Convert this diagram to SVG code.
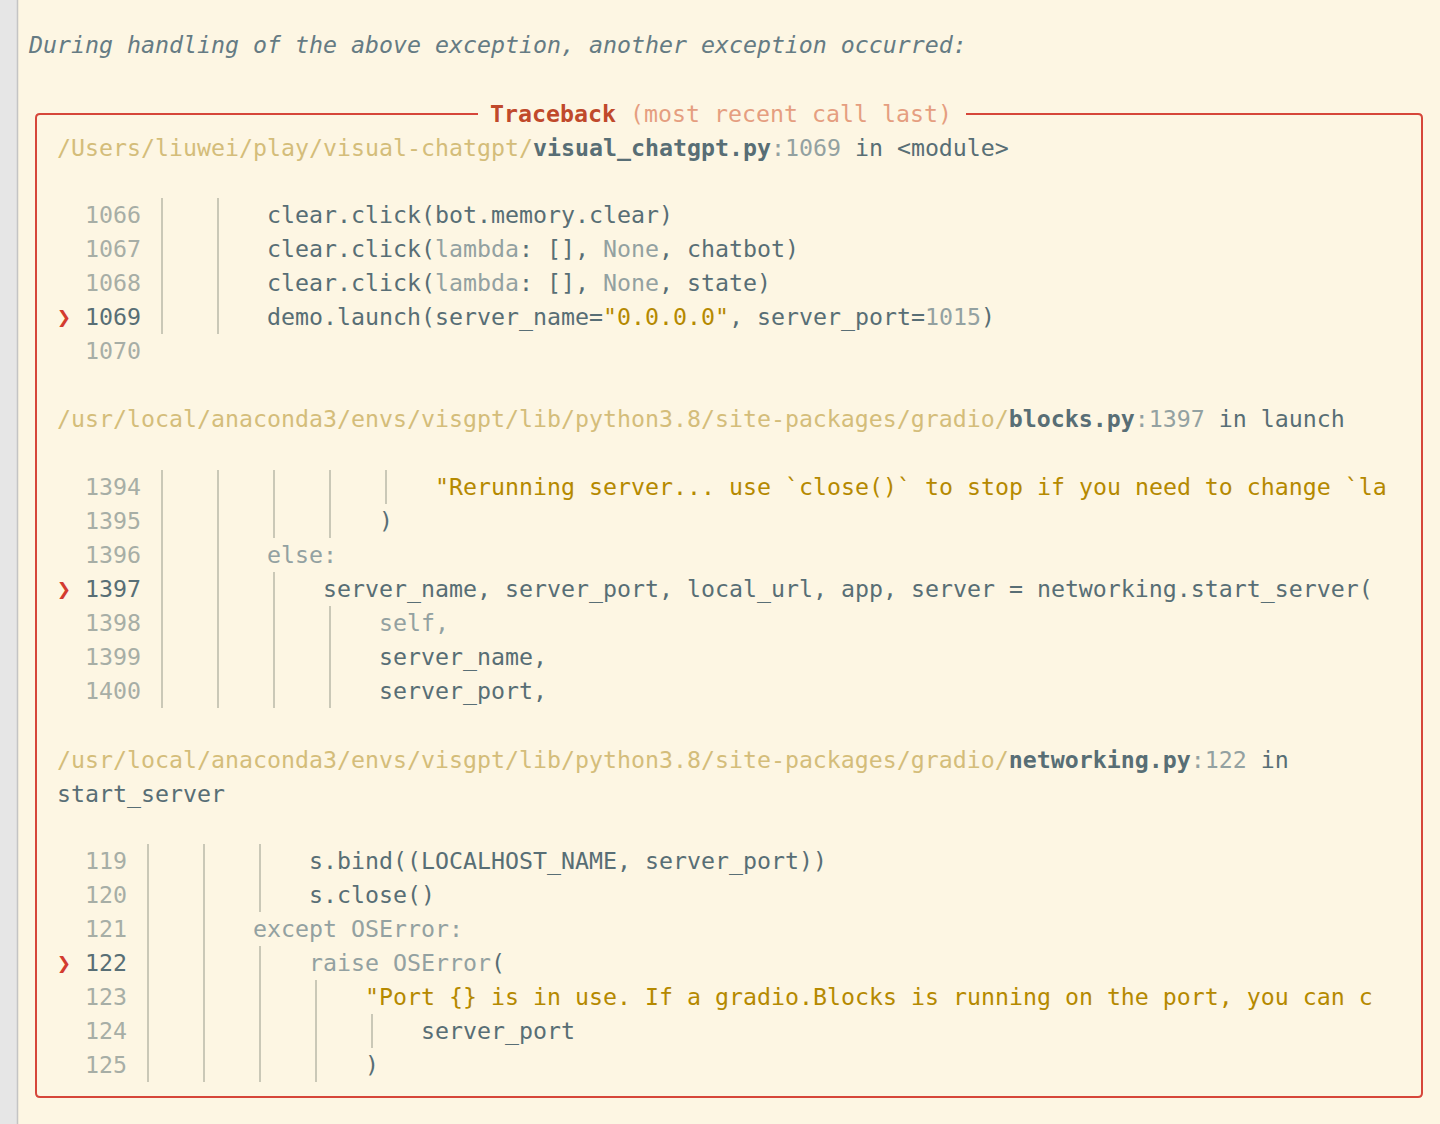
<svg xmlns="http://www.w3.org/2000/svg" width="1440" height="1124" viewBox="0 0 1440 1124">
<style>
text{font-family:"DejaVu Sans Mono","Liberation Mono",monospace;font-size:23.25px;fill:#657b83;white-space:pre}
.dim{fill:#d4bd7a}.fn{fill:#586e75;font-weight:bold}.ln{fill:#a7aea6}.cur{fill:#586e75}
.kw{fill:#93a1a1}.str{fill:#b58900}.arr{fill:#d33b2f}.c{fill:#586e75}
.g{stroke:#b9b8a8;stroke-width:1.5}
</style>
<rect width="1440" height="1124" fill="#fdf6e3"/>
<rect width="17" height="1124" fill="#e6e6e6"/>
<line x1="17.5" y1="0" x2="17.5" y2="1124" stroke="#c4c4c4" stroke-width="1.5"/>
<text x="29" y="53" font-style="italic">During handling of the above exception, another exception occurred:</text>
<g id="box">
<path d="M478 114 H40 Q36 114 36 118 V1093 Q36 1097 40 1097 H1418 Q1422 1097 1422 1093 V118 Q1422 114 1418 114 H966" fill="none" stroke="#d6463a" stroke-width="2"/>
<text x="490" y="122"><tspan fill="#c0492b" font-weight="bold">Traceback</tspan><tspan fill="#e59e80"> (most recent call last)</tspan></text>
</g>
<g id="frame1">
<text x="57" y="156"><tspan class="dim">/Users/liuwei/play/visual-chatgpt/</tspan><tspan class="fn">visual_chatgpt.py</tspan><tspan class="kw">:1069</tspan><tspan class="c"> in &lt;module&gt;</tspan></text>
<g class="g"><line x1="162" y1="198" x2="162" y2="334"/><line x1="218" y1="198" x2="218" y2="334"/></g>
<text x="85" y="223" class="ln">1066</text><text x="267" y="223" class="c">clear.click(bot.memory.clear)</text>
<text x="85" y="257" class="ln">1067</text><text x="267" y="257" class="c">clear.click(<tspan class="kw">lambda</tspan>: [], <tspan class="kw">None</tspan>, chatbot)</text>
<text x="85" y="291" class="ln">1068</text><text x="267" y="291" class="c">clear.click(<tspan class="kw">lambda</tspan>: [], <tspan class="kw">None</tspan>, state)</text>
<text x="57" y="325" class="arr">❯</text><text x="85" y="325" class="cur">1069</text><text x="267" y="325" class="c">demo.launch(server_name=<tspan class="str">"0.0.0.0"</tspan>, server_port=<tspan class="kw">1015</tspan>)</text>
<text x="85" y="359" class="ln">1070</text>
</g>
<g id="frame2">
<text x="57" y="427"><tspan class="dim">/usr/local/anaconda3/envs/visgpt/lib/python3.8/site-packages/gradio/</tspan><tspan class="fn">blocks.py</tspan><tspan class="kw">:1397</tspan><tspan class="c"> in launch</tspan></text>
<g class="g">
<line x1="162" y1="470" x2="162" y2="708"/><line x1="218" y1="470" x2="218" y2="708"/>
<line x1="274" y1="470" x2="274" y2="538"/><line x1="274" y1="572" x2="274" y2="708"/>
<line x1="330" y1="470" x2="330" y2="538"/><line x1="330" y1="606" x2="330" y2="708"/>
<line x1="386" y1="470" x2="386" y2="504"/>
</g>
<text x="85" y="495" class="ln">1394</text><text x="435" y="495" class="str">"Rerunning server... use `close()` to stop if you need to change `la</text>
<text x="85" y="529" class="ln">1395</text><text x="379" y="529" class="c">)</text>
<text x="85" y="563" class="ln">1396</text><text x="267" y="563" class="kw">else:</text>
<text x="57" y="597" class="arr">❯</text><text x="85" y="597" class="cur">1397</text><text x="323" y="597" class="c">server_name, server_port, local_url, app, server = networking.start_server(</text>
<text x="85" y="631" class="ln">1398</text><text x="379" y="631" class="kw">self,</text>
<text x="85" y="665" class="ln">1399</text><text x="379" y="665" class="c">server_name,</text>
<text x="85" y="699" class="ln">1400</text><text x="379" y="699" class="c">server_port,</text>
</g>
<g id="frame3">
<text x="57" y="768"><tspan class="dim">/usr/local/anaconda3/envs/visgpt/lib/python3.8/site-packages/gradio/</tspan><tspan class="fn">networking.py</tspan><tspan class="kw">:122</tspan><tspan class="c"> in</tspan></text>
<text x="57" y="802" class="c">start_server</text>
<g class="g">
<line x1="148" y1="844" x2="148" y2="1082"/><line x1="204" y1="844" x2="204" y2="1082"/>
<line x1="260" y1="844" x2="260" y2="912"/><line x1="260" y1="946" x2="260" y2="1082"/>
<line x1="316" y1="980" x2="316" y2="1082"/>
<line x1="372" y1="1014" x2="372" y2="1048"/>
</g>
<text x="85" y="869" class="ln">119</text><text x="309" y="869" class="c">s.bind((LOCALHOST_NAME, server_port))</text>
<text x="85" y="903" class="ln">120</text><text x="309" y="903" class="c">s.close()</text>
<text x="85" y="937" class="ln">121</text><text x="253" y="937" class="kw">except OSError:</text>
<text x="57" y="971" class="arr">❯</text><text x="85" y="971" class="cur">122</text><text x="309" y="971" class="c"><tspan class="kw">raise OSError</tspan>(</text>
<text x="85" y="1005" class="ln">123</text><text x="365" y="1005" class="str">"Port {} is in use. If a gradio.Blocks is running on the port, you can c</text>
<text x="85" y="1039" class="ln">124</text><text x="421" y="1039" class="c">server_port</text>
<text x="85" y="1073" class="ln">125</text><text x="365" y="1073" class="c">)</text>
</g>
</svg>
